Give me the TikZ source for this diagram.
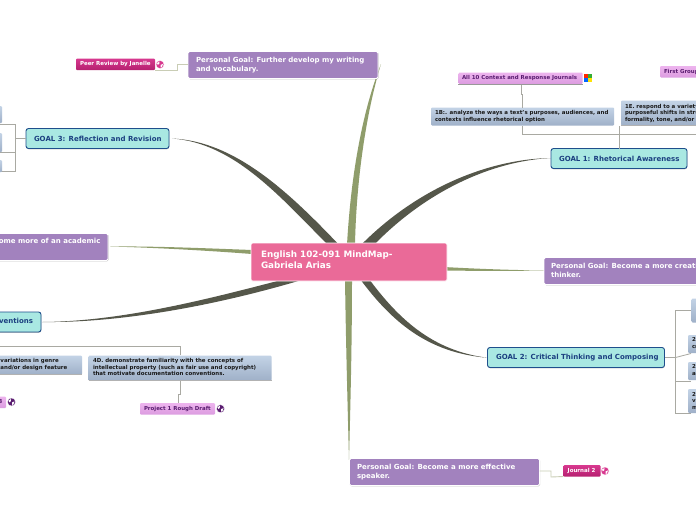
\documentclass[tikz,border=0pt]{standalone}
\usepackage{fontspec}
\setmainfont{DejaVu Sans}
\usetikzlibrary{shadows,calc}
\definecolor{centrepink}{HTML}{EA6A98}
\definecolor{purplebox}{HTML}{A282BE}
\definecolor{goalfill}{HTML}{A9E8E2}
\definecolor{goalline}{HTML}{1F4F8C}
\definecolor{goaltext}{HTML}{1B3F80}
\definecolor{stemdark}{HTML}{55574A}
\definecolor{stemgreen}{HTML}{8F9D6B}
\definecolor{linkgrey}{HTML}{A9A9A2}
\definecolor{linkpale}{HTML}{C9CDB5}
\definecolor{bluetop}{HTML}{C3D3E6}
\definecolor{bluebot}{HTML}{9FB0C8}
\definecolor{liltop}{HTML}{EDB4EE}
\definecolor{lilbot}{HTML}{DC9CE0}
\definecolor{magtop}{HTML}{D8388F}
\definecolor{magbot}{HTML}{B5206F}
\definecolor{lilint}{HTML}{5A1C70}
\tikzset{
 x=1pt,y=-1pt,
 every node/.style={inner sep=0pt,outer sep=0pt,font=\bfseries},
 centrebox/.style={fill=centrepink,draw=white,line width=.6pt,rounded corners=1.5pt,anchor=north west,minimum width=196pt,minimum height=38pt},
 purplenode/.style={fill=purplebox,draw=white,line width=.8pt,rounded corners=1.5pt,anchor=north west,drop shadow={shadow xshift=.6pt,shadow yshift=-.8pt,fill=black!45,opacity=.5}},
 goalnode/.style={fill=goalfill,draw=goalline,line width=.9pt,rounded corners=2.5pt,anchor=north west,drop shadow={shadow xshift=.3pt,shadow yshift=-.8pt,fill=black!45,opacity=.5}},
 bluenode/.style={top color=bluetop,bottom color=bluebot,rounded corners=1pt,anchor=north west},
 lilacnode/.style={top color=liltop,bottom color=lilbot,rounded corners=1pt,anchor=north west},
 magnode/.style={top color=magtop,bottom color=magbot,rounded corners=1pt,anchor=north west},
 ptext/.style={anchor=north west,align=left,text=white,font=\fontsize{7}{9}\selectfont\bfseries},
 gtext/.style={anchor=west,text=goaltext,font=\fontsize{7}{9}\selectfont\bfseries},
 btext/.style={anchor=north west,align=left,text=black!90,font=\fontsize{5.45}{7}\selectfont\bfseries},
 ltext/.style={anchor=west,text=lilint,font=\fontsize{5.45}{6}\selectfont\bfseries},
 mtext/.style={anchor=west,text=white,font=\fontsize{5.5}{6}\selectfont\bfseries},
 tlink/.style={draw=linkgrey,line width=.8pt},
 plink/.style={draw=linkpale,line width=.9pt},
 under/.style={draw=black!30,line width=.6pt},
 globe/.style={circle,fill=#1,draw=white,line width=.3pt,minimum size=8pt},
 globemark/.style={fill=white},
}
\newcommand{\globedots}[1]{%
 \fill[globemark] ($(#1)+(-3,-1.5)$) -- ($(#1)+(-.5,-3)$) -- ($(#1)+(-.8,-.6)$) -- ($(#1)+(-2.2,.3)$) -- cycle;
 \fill[globemark] ($(#1)+(.6,.4)$) -- ($(#1)+(3,-.6)$) -- ($(#1)+(2,2.4)$) -- ($(#1)+(.6,3)$) -- cycle;}
\begin{document}
\begin{tikzpicture}
\clip (0,0) rectangle (696,520);
\fill[white] (0,0) rectangle (696,520);
% tapered main branches
\fill[stemdark] (331,248) .. controls (281,198) and (235,143) .. (172,138.5) .. controls (235,141) and (289,192) .. (342,248) -- cycle;
\fill[stemdark] (371,248) .. controls (423,193) and (490,161) .. (551,158) .. controls (490,159) and (417,187) .. (358,248) -- cycle;
\fill[stemdark] (285,279) .. controls (205,300) and (120,321.5) .. (42,322) .. controls (120,323) and (215,306) .. (305,279) -- cycle;
\fill[stemdark] (360,279) .. controls (392,322) and (428,353) .. (488,357.8) .. controls (432,351) and (398,318) .. (369,279) -- cycle;
\fill[stemgreen] (347,245) .. controls (350,190) and (359,120) .. (381,64) .. controls (364,120) and (356,190) .. (355,245) -- cycle;
\fill[stemgreen] (345,279) .. controls (346,350) and (348,420) .. (349,460) .. controls (350,420) and (352,350) .. (352,279) -- cycle;
\fill[stemgreen] (252,250) .. controls (200,248) and (150,246) .. (110,246.5) .. controls (150,247.5) and (200,250) .. (252,254) -- cycle;
\fill[stemgreen] (444,267) .. controls (480,269) and (510,270) .. (544,270.5) .. controls (510,271) and (480,271) .. (444,270.5) -- cycle;
% centre
\node[centrebox] (centre) at (251,243) {};
\node[anchor=north west,align=left,text=white,font=\fontsize{8.8}{11}\selectfont\bfseries] (centretext) at (261,251) {English 102-091 MindMap-\\Gabriela Arias};
% personal goals
\node[purplenode,minimum width=190pt,minimum height=27pt] (pg1) at (188,51.5) {};
\node[ptext] (pg1t) at (196,57.2) {Personal Goal: Further develop my writing\\and vocabulary.};
\node[purplenode,minimum width=230pt,minimum height=27pt] (pg2) at (-122,233.5) {};
\node[ptext,anchor=north east] (pg2t) at (100.5,238.2) {Personal Goal: Become more of an academic};
\node[purplenode,minimum width=190pt,minimum height=27pt] (pg3) at (544,257.5) {};
\node[ptext] (pg3t) at (551,263) {Personal Goal: Become a more creative\\thinker.};
\node[purplenode,minimum width=190pt,minimum height=27pt] (pg4) at (349.5,458.5) {};
\node[ptext] (pg4t) at (357,464) {Personal Goal: Become a more effective\\speaker.};
% goals
\node[goalnode,minimum width=143pt,minimum height=20pt] (g3) at (26,128.5) {};
\node[gtext] (g3t) at (34,138.5) {GOAL 3: Reflection and Revision};
\node[goalnode,minimum width=136pt,minimum height=20pt] (g1) at (551,148.5) {};
\node[gtext] (g1t) at (559,158.5) {GOAL 1: Rhetorical Awareness};
\node[goalnode,minimum width=177pt,minimum height=20pt] (g2) at (487.5,347.5) {};
\node[gtext] (g2t) at (496,357.5) {GOAL 2: Critical Thinking and Composing};
\node[goalnode,minimum width=160pt,minimum height=20pt] (g4) at (-119,312) {};
\node[gtext,anchor=east] (g4t) at (33,322) {GOAL 4: Knowledge of Conventions};
% goal 1 children
\draw[tlink] (g1.north) -- (619,134.5) coordinate (j1) -- (522.5,134.5) coordinate (j1a) -- (522.5,126);
\draw[tlink] (j1) -- (619,126);
\draw[tlink] (j1) -- (696,134.5);
\node[bluenode,minimum width=183pt,minimum height=18pt] (b1) at (431,107.5) {};
\node[btext] (b1t) at (435,110.5) {1B:. analyze the ways a text's purposes, audiences, and\\contexts influence rhetorical option};
\node[bluenode,minimum width=120pt,minimum height=25pt] (b2) at (621,100.5) {};
\draw[under] (b2.south west) -- (b2.south east);
\node[btext,font=\fontsize{5.45}{6.8}\selectfont\bfseries] (b2t) at (625,104) {1E. respond to a variety of situations with\\purposeful shifts in structure, medium,\\formality, tone, and/or design};
\draw[tlink] (522.5,107.5) -- (522.5,94) -- (521,94) -- (521,85);
\node[lilacnode,minimum width=124pt,minimum height=11.5pt] (l1) at (458.5,72.5) {};
\node[ltext] (l1t) at (462,78.3) {All 10 Context and Response Journals};
\draw[under,draw=black!40] (458,84.5) -- (583,84.5);
\fill[red!70!orange] (584,74) rectangle (587.8,78);
\fill[green!60!black!80] (588.2,74) rectangle (592,78);
\fill[blue!60!cyan] (584,78.4) rectangle (587.8,82.4);
\fill[yellow!85!orange] (588.2,78.4) rectangle (592,82.4);
\node[lilacnode,minimum width=60pt,minimum height=11.5pt] (l2) at (660,66) {};
\node[ltext] (l2t) at (664,71.8) {First Group Meeting};
% goal 3 children
\draw[tlink] (g3.west) -- (15,138.5) coordinate (j3);
\draw[tlink] (0,124) -- (15.5,124) -- (15.5,171) -- (0,171);
\draw[tlink] (0,152) -- (15.5,152);
\node[bluenode,minimum width=22pt,minimum height=17pt] (b3a) at (-20,106) {};
\node[bluenode,minimum width=22pt,minimum height=19pt] (b3b) at (-20,133) {};
\node[bluenode,minimum width=22pt,minimum height=12pt] (b3c) at (-20,160) {};
% goal 2 children
\draw[tlink] (g2.east) -- (675.5,357.5) coordinate (j2);
\draw[tlink] (691,310.5) -- (675.5,310.5) -- (675.5,413.5) -- (691,413.5);
\draw[tlink] (j2) -- (691,353.5);
\draw[tlink] (675.5,381) -- (691,381);
\node[bluenode,minimum width=60pt,minimum height=24pt] (b2a) at (691.5,298.5) {};
\node[bluenode,minimum width=60pt,minimum height=18pt] (b2b) at (688,335) {};
\node[btext] (b2bt) at (692,337.5) {2A.\\cr};
\node[bluenode,minimum width=60pt,minimum height=18pt] (b2c) at (688,362) {};
\node[btext] (b2ct) at (692,364.5) {2B.\\an};
\node[bluenode,minimum width=60pt,minimum height=24pt] (b2d) at (688,389) {};
\node[btext,font=\fontsize{5.45}{6.8}\selectfont\bfseries] (b2dt) at (692,392) {2C.\\vi\\m};
% goal 4 children
\draw[tlink] (0,346.5) -- (180,346.5) -- (180,355);
\node[bluenode,minimum width=183pt,minimum height=19pt] (b4a) at (-101,355.5) {};
\node[btext] (b4at) at (0.5,358.5) {variations in genre\\and/or design feature};
\draw[under] (-101,374.5) -- (82,374.5);
\node[bluenode,minimum width=183pt,minimum height=25pt] (b4b) at (88.5,355.5) {};
\node[btext,font=\fontsize{5.45}{6.5}\selectfont\bfseries] (b4bt) at (93,358.5) {4D. demonstrate familiarity with the concepts of\\intellectual property (such as fair use and copyright)\\that motivate documentation conventions.};
\draw[under] (88.5,380.5) -- (271.5,380.5);
\draw[tlink] (180,380.5) -- (180,394) -- (178,394) -- (178,403);
\node[lilacnode,minimum width=75pt,minimum height=11.5pt] (l3) at (140,403) {};
\node[ltext] (l3t) at (144,408.8) {Project 1 Rough Draft};
\node[globe=lilint] (gl3) at (220.5,408.7) {};
\globedots{gl3}
\node[lilacnode,minimum width=55pt,minimum height=11.5pt] (l4) at (-49,396.5) {};
\node[ltext,anchor=east] (l4t) at (2.5,402.3) {Journal 3};
\node[globe=lilint] (gl4) at (11.5,402) {};
\globedots{gl4}
% magenta tags
\node[magnode,minimum width=79pt,minimum height=11.5pt] (m1) at (76,58.5) {};
\node[mtext] (m1t) at (80,64.5) {Peer Review by Janelle};
\draw[plink] (m1.south east) -- (177,70) -- (177,64.5) -- (188,64.5);
\node[globe=magtop] (gm1) at (160,64.5) {};
\globedots{gm1}
\node[magnode,minimum width=37pt,minimum height=11.5pt] (m2) at (563.5,465) {};
\node[mtext] (m2t) at (567.7,471) {Journal 2};
\draw[plink] (539.5,471) -- (551,471) -- (551,477) -- (m2.south west);
\node[globe=magtop] (gm2) at (605,471) {};
\globedots{gm2}
\end{tikzpicture}
\end{document}
